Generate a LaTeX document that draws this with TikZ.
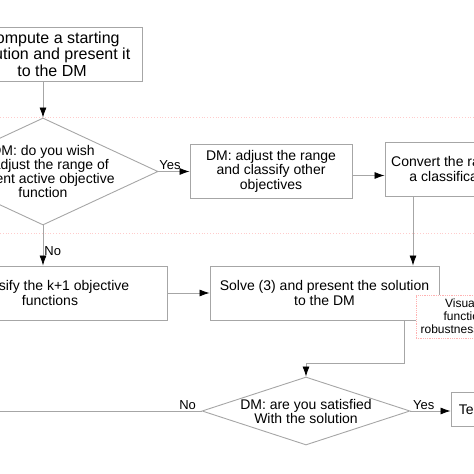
\documentclass[tikz,border=0pt]{standalone}
\usepackage{fontspec}
\setmainfont{Liberation Sans}
\usepackage{xcolor}
\usepackage{tikz}
\usetikzlibrary{shapes.geometric, arrows.meta}
\tikzstyle{process} = [rectangle, draw=gray!70, line width=0.9pt, fill=white, minimum height=54pt, inner sep=0pt, align=center, font=\fontsize{14}{14.5}\selectfont]
\tikzstyle{decision} = [diamond, draw=gray!70, line width=0.9pt, inner sep=0pt]
\tikzstyle{question} = [align=center, inner sep=0pt, font=\fontsize{14}{14}\selectfont]
\tikzstyle{note} = [rectangle, draw=red!30, densely dotted, line width=0.8pt, fill=white, minimum width=106pt, minimum height=43pt, inner sep=0pt, align=center, font=\fontsize{12}{13}\selectfont]
\tikzstyle{answer} = [inner sep=1pt, font=\fontsize{13}{13}\selectfont]
\tikzstyle{arrow} = [draw=gray!70, line width=0.8pt, -{Latex[length=10pt,width=7pt,color=black]}]
\tikzstyle{line} = [draw=gray!70, line width=0.8pt]
\tikzstyle{lane} = [red!20, dotted, line width=0.8pt]

\begin{document}
\begin{tikzpicture}[x=10pt, y=10pt]
            \useasboundingbox (0,0) rectangle (47.4,47.4);
            \clip (0,0) rectangle (47.4,47.4);
            \draw [lane] (0,35.7) -- (47.4,35.7);
            \draw [lane] (0,24.1) -- (47.4,24.1);

            \node [process, minimum width=180pt, font=\fontsize{16}{16.3}\selectfont] (start) at (5.2,42.0) {Compute a starting\\solution and present it\\to the DM};
            \node [decision, minimum width=230pt, minimum height=107pt] (ask) at (4.3,30.25) {};
            \node [question] at (ask) {DM: do you wish\\to adjust the range of\\current active objective\\function};
            \node [process, minimum width=162pt] (adjust) at (27.1,30.3) {DM: adjust the range\\and classify other\\objectives};
            \node [process, minimum width=140pt] (convert) at (45.5,30.5) {Convert the range to\\a classification};
            \node [process, minimum width=234pt] (classify) at (5.0,18.1) {Classify the k+1 objective\\functions};
            \node [process, minimum width=229pt] (solve) at (32.45,18.1) {Solve (3) and present the solution\\to the DM};
            \node [note] (robust) at (46.9,15.75) {Visualize\\functions'\\robustness values};
            \node [decision, minimum width=208pt, minimum height=68pt] (satisfied) at (30.6,6.3) {};
            \node [question] at (satisfied) {DM: are you satisfied\\With the solution};
            \node [process, minimum width=77pt, minimum height=34pt] (stop) at (48.95,6.5) {Terminate};

            \coordinate (a2) at ([yshift=-4.5pt]adjust.east);
            \coordinate (c3) at ([xshift=-42pt]convert.south);
            \coordinate (c5) at ([xshift=79.5pt]solve.south);
            \coordinate (back) at (-1,6.3);

            \draw [arrow] (ask.north |- start.south) -- (ask.north);
            \draw [arrow] (ask.east) -- node[answer, above, pos=0.37] {Yes} (ask.east -| adjust.west);
            \draw [arrow] (a2) -- (a2 -| convert.west);
            \draw [arrow] (c3) -- (c3 |- solve.north);
            \draw [arrow] (ask.south) -- node[answer, right, pos=0.63] {No} (ask.south |- classify.north);
            \draw [arrow] (classify.east) -- (solve.west);
            \draw [arrow] (c5) -- ++(0,-4.3) -| (satisfied.north);
            \draw [arrow] (satisfied.east) -- node[answer, above, pos=0.33] {Yes} (satisfied.east -| stop.west);
            \draw [line] (satisfied.west) -- node[answer, above, pos=0.066] {No} (back);
        \end{tikzpicture}
\end{document}
